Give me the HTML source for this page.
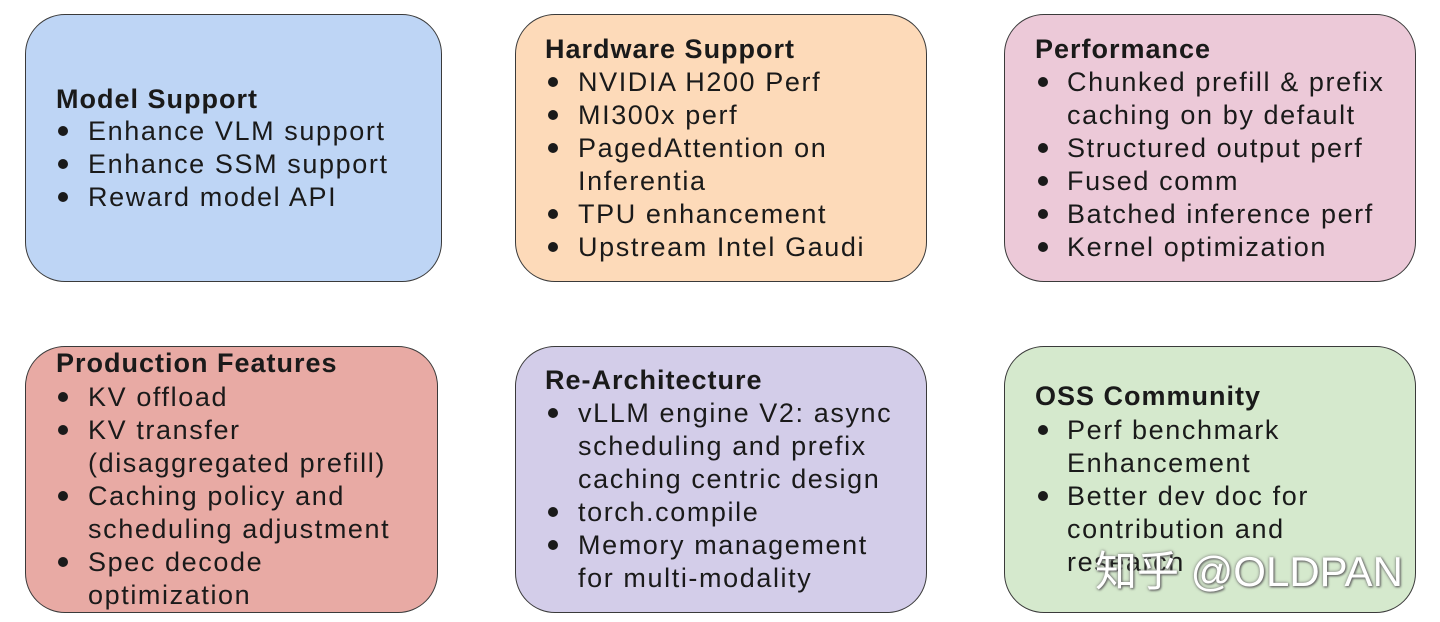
<!DOCTYPE html>
<html><head><meta charset="utf-8"><style>
body{margin:0;width:1440px;height:622px;background:#fff;position:relative;overflow:hidden;font-family:"Liberation Sans","Noto Sans CJK SC",sans-serif;color:#1a1a1a}
.b{position:absolute;border:1.5px solid #3a3a3a;border-radius:40px;box-sizing:border-box}
.t{position:absolute;font-size:27px;line-height:32px;padding-top:0px;white-space:nowrap;letter-spacing:1.6px}
.h{font-weight:bold;letter-spacing:1px}
.d{position:absolute;width:10px;height:10px;border-radius:50%;background:#1a1a1a;margin-top:0px}
.wm{position:absolute;left:1095px;top:538px;font-size:42px;color:#fff;text-shadow:0 0 3px #777,1px 1px 2px #555;white-space:nowrap}
</style></head><body>
<div class="b" style="left:25px;top:14px;width:417px;height:268px;background:#bed5f5"></div>
<div class="b" style="left:515px;top:14px;width:412px;height:268px;background:#fddab9"></div>
<div class="b" style="left:1004px;top:14px;width:412px;height:268px;background:#ecc9d8"></div>
<div class="b" style="left:25px;top:346px;width:413px;height:267px;background:#e8aaa4"></div>
<div class="b" style="left:515px;top:346px;width:412px;height:267px;background:#d3cde9"></div>
<div class="b" style="left:1004px;top:346px;width:412px;height:267px;background:#d5e9cd"></div>

<div class="t h" style="left:56px;top:83px">Model Support</div>
<div class="d" style="left:58px;top:126px"></div><div class="t" style="left:88px;top:115px">Enhance VLM support</div>
<div class="d" style="left:58px;top:159px"></div><div class="t" style="left:88px;top:148px">Enhance SSM support</div>
<div class="d" style="left:58px;top:192px"></div><div class="t" style="left:88px;top:181px">Reward model API</div>

<div class="t h" style="left:545px;top:33px">Hardware Support</div>
<div class="d" style="left:548px;top:77px"></div><div class="t" style="left:578px;top:66px">NVIDIA H200 Perf</div>
<div class="d" style="left:548px;top:110px"></div><div class="t" style="left:578px;top:99px">MI300x perf</div>
<div class="d" style="left:548px;top:143px"></div><div class="t" style="left:578px;top:132px">PagedAttention on</div>
<div class="t" style="left:578px;top:165px">Inferentia</div>
<div class="d" style="left:548px;top:209px"></div><div class="t" style="left:578px;top:198px">TPU enhancement</div>
<div class="d" style="left:548px;top:242px"></div><div class="t" style="left:578px;top:231px">Upstream Intel Gaudi</div>

<div class="t h" style="left:1035px;top:33px">Performance</div>
<div class="d" style="left:1038px;top:77px"></div><div class="t" style="left:1067px;top:66px">Chunked prefill &amp; prefix</div>
<div class="t" style="left:1067px;top:99px">caching on by default</div>
<div class="d" style="left:1038px;top:143px"></div><div class="t" style="left:1067px;top:132px">Structured output perf</div>
<div class="d" style="left:1038px;top:176px"></div><div class="t" style="left:1067px;top:165px">Fused comm</div>
<div class="d" style="left:1038px;top:209px"></div><div class="t" style="left:1067px;top:198px">Batched inference perf</div>
<div class="d" style="left:1038px;top:242px"></div><div class="t" style="left:1067px;top:231px">Kernel optimization</div>

<div class="t h" style="left:56px;top:347px">Production Features</div>
<div class="d" style="left:58px;top:392px"></div><div class="t" style="left:88px;top:381px">KV offload</div>
<div class="d" style="left:58px;top:425px"></div><div class="t" style="left:88px;top:414px">KV transfer</div>
<div class="t" style="left:88px;top:447px">(disaggregated prefill)</div>
<div class="d" style="left:58px;top:491px"></div><div class="t" style="left:88px;top:480px">Caching policy and</div>
<div class="t" style="left:88px;top:513px">scheduling adjustment</div>
<div class="d" style="left:58px;top:557px"></div><div class="t" style="left:88px;top:546px">Spec decode</div>
<div class="t" style="left:88px;top:579px">optimization</div>

<div class="t h" style="left:545px;top:364px">Re-Architecture</div>
<div class="d" style="left:548px;top:408px"></div><div class="t" style="left:578px;top:397px">vLLM engine V2: async</div>
<div class="t" style="left:578px;top:430px">scheduling and prefix</div>
<div class="t" style="left:578px;top:463px">caching centric design</div>
<div class="d" style="left:548px;top:507px"></div><div class="t" style="left:578px;top:496px">torch.compile</div>
<div class="d" style="left:548px;top:540px"></div><div class="t" style="left:578px;top:529px">Memory management</div>
<div class="t" style="left:578px;top:562px">for multi-modality</div>

<div class="t h" style="left:1035px;top:380px">OSS Community</div>
<div class="d" style="left:1038px;top:425px"></div><div class="t" style="left:1067px;top:414px">Perf benchmark</div>
<div class="t" style="left:1067px;top:447px">Enhancement</div>
<div class="d" style="left:1038px;top:491px"></div><div class="t" style="left:1067px;top:480px">Better dev doc for</div>
<div class="t" style="left:1067px;top:513px">contribution and</div>
<div class="t" style="left:1067px;top:546px">research</div>
<div class="wm">知乎 @OLDPAN</div>
</body></html>
